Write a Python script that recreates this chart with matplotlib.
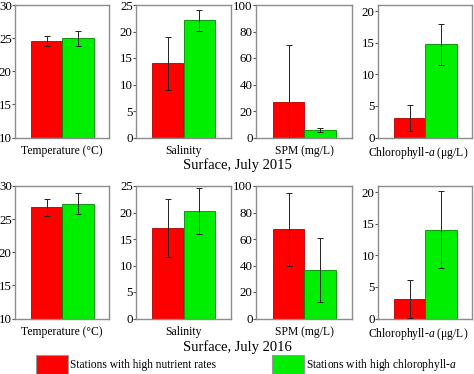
import matplotlib
matplotlib.use("Agg")
import matplotlib.pyplot as plt
from matplotlib.patches import Rectangle

plt.rcParams['font.family'] = ['Liberation Serif', 'DejaVu Serif']
plt.rcParams['mathtext.fontset'] = 'custom'
plt.rcParams['mathtext.rm'] = 'Liberation Serif'
plt.rcParams['mathtext.it'] = 'Liberation Serif:italic'

variables = ["Temperature (°C)", "Salinity", "SPM (mg/L)", "Chlorophyll-$\\mathit{a}$ (μg/L)"]
series_names = ["Stations with high nutrient rates", "Stations with high chlorophyll-$\\mathit{a}$"]
row_titles = ["Surface, July 2015", "Surface, July 2016"]

# 2015
nutrient_2015 = [24.6, 14.0, 26.5, 3.1]
nutrient_2015_err = [0.75, 5.0, 43.0, 2.0]
chl_2015 = [25.0, 22.1, 6.0, 14.8]
chl_2015_err = [1.15, 2.05, 1.5, 3.25]
# 2016
nutrient_2016 = [26.8, 17.1, 67.5, 3.1]
nutrient_2016_err = [1.3, 5.5, 27.5, 3.0]
chl_2016 = [27.3, 20.3, 36.5, 14.1]
chl_2016_err = [1.6, 4.4, 24.0, 6.1]

ylims = [(10, 30), (0, 25), (0, 100), (0, 21)]
yticks = [[10, 15, 20, 25, 30], [0, 5, 10, 15, 20, 25], [0, 20, 40, 60, 80, 100], [0, 5, 10, 15, 20]]

W, H = 474, 374
fig = plt.figure(figsize=(W / 100, H / 100), dpi=100)

# pixel layout: left, right, bar margins, xlabel center
cols = [(15, 109, 16, 15, 62), (136, 231, 16, 16, 183), (256, 352, 17, 16, 304), (378, 472, 16, 15, 418)]
rows = [(5, 137.5), (186, 318.5)]
bw = 32.0

red = "#ff0000"
green = "#00ee00"
data = [(nutrient_2015, nutrient_2015_err, chl_2015, chl_2015_err),
        (nutrient_2016, nutrient_2016_err, chl_2016, chl_2016_err)]

for r, (top, bot) in enumerate(rows):
    nv, ne, cv, ce = data[r]
    for c, (l, rr, lm, rm, lc) in enumerate(cols):
        ax = fig.add_axes([l / W, 1 - bot / H, (rr - l) / W, (bot - top) / H])
        ax.bar([0], [nv[c]], width=1.0, color=red, edgecolor="#b00000", linewidth=0.6, zorder=2)
        ax.bar([1], [cv[c]], width=1.0, color=green, edgecolor="#008800", linewidth=0.6, zorder=2)
        ax.errorbar([0, 1], [nv[c], cv[c]], yerr=[ne[c], ce[c]], fmt="none",
                    ecolor="#222222", elinewidth=0.7, capsize=2.5, capthick=0.7, zorder=3)
        ax.set_xlim(-0.5 - lm / bw, 1.5 + rm / bw)
        ax.set_ylim(*ylims[c])
        ax.set_yticks(yticks[c])
        ax.set_xticks([])
        for s in ax.spines.values():
            s.set_color("#8c8c8c")
            s.set_linewidth(1.0)
        ax.tick_params(axis="y", direction="out", length=2.0, width=0.8, color="#555555",
                       labelsize=9.3, pad=0.3)
        ax.set_xlabel(variables[c], fontsize=8.4)
        ax.xaxis.set_label_coords((lc - l) / (rr - l), -0.055, transform=ax.transAxes)
        ax.xaxis.label.set_va("top")
    fig.text(237 / W, 1 - (165 if r == 0 else 347) / H, row_titles[r], ha="center", va="center", fontsize=10.5)

# legend
for x0, col, ec, name in [(36, red, "#b00000", series_names[0]), (272, green, "#008800", series_names[1])]:
    fig.patches.append(Rectangle((x0 / W, 0), 32 / W, 19 / H, transform=fig.transFigure,
                                 facecolor=col, edgecolor="#999999", linewidth=0.8))
    fig.text((x0 + 34) / W, 1 - 365 / H, name, ha="left", va="center", fontsize=8.3)

fig.savefig("out.png", dpi=100)
